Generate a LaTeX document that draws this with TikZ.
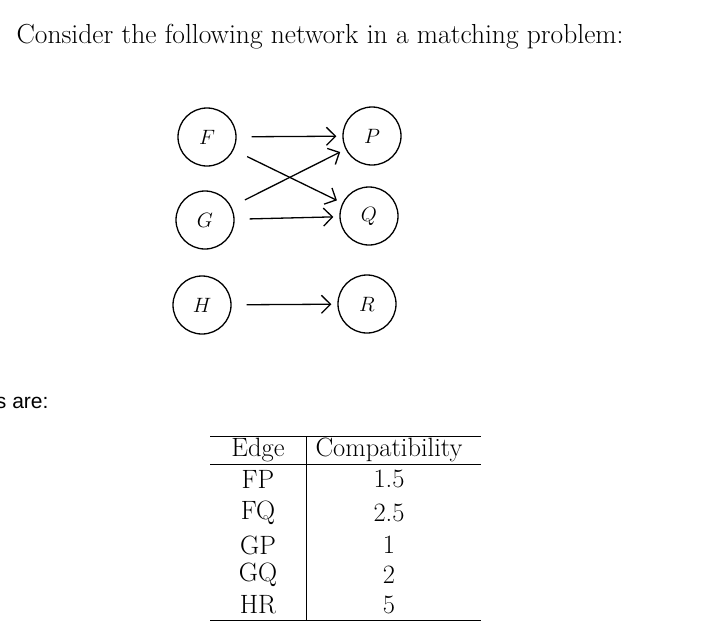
\documentclass[tikz,border=0pt]{standalone}
\usepackage{fontspec}
\newfontfamily\sansfrag{Liberation Sans}
\usetikzlibrary{arrows.meta}
\begin{document}
\begin{tikzpicture}[x=1pt,y=-1pt,
        vertex/.style={draw, circle, line width=1.3pt, minimum size=58pt, inner sep=0pt, font={\fontsize{22}{26}\selectfont}},
        match/.style={-{Straight Barb[length=9pt,width=18pt,line width=1.3pt]}, line width=1.3pt, shorten <=15pt, shorten >=6pt},
        cell/.style={font={\fontsize{26.5}{30}\selectfont}}]
        \useasboundingbox (0,0) rectangle (728,638);
        \node[font={\fontsize{27.5}{32}\selectfont}, anchor=west] (title) at (13,37) {Consider the following network in a matching problem:};
        \node[font={\sansfrag\fontsize{21}{25}\selectfont}, anchor=east] (frag) at (52,403) {s are:};

        \node[vertex] (F) at (207,137) {$F$};
        \node[vertex] (G) at (205,220) {$G$};
        \node[vertex] (H) at (202,305) {$H$};
        \node[vertex] (P) at (372,136) {$P$};
        \node[vertex] (Q) at (369,216) {$Q$};
        \node[vertex] (R) at (367,304) {$R$};

        \draw[match] (F) -- (P);
        \draw[match] (F) -- (Q);
        \draw[match] (G) -- (P);
        \draw[match] (G) -- (Q);
        \draw[match] (H) -- (R);

        % table
        \draw[line width=1pt] (210,436) -- (481,436);
        \draw[line width=1pt] (210,464) -- (481,464);
        \draw[line width=1pt] (210,620) -- (481,620);
        \draw[line width=1pt] (306,436) -- (306,620);
        \node[cell] (hedge) at (258,450) {Edge};
        \node[cell] (hcomp) at (389,450) {Compatibility};
        \node[cell] (e1) at (258,479) {FP};
        \node[cell] (c1) at (389,479) {1.5};
        \node[cell] (e2) at (258,513) {FQ};
        \node[cell] (c2) at (389,513) {2.5};
        \node[cell] (e3) at (258,545) {GP};
        \node[cell] (c3) at (389,545) {1};
        \node[cell] (e4) at (258,575) {GQ};
        \node[cell] (c4) at (389,575) {2};
        \node[cell] (e5) at (258,605) {HR};
        \node[cell] (c5) at (389,605) {5};
\end{tikzpicture}
\end{document}
